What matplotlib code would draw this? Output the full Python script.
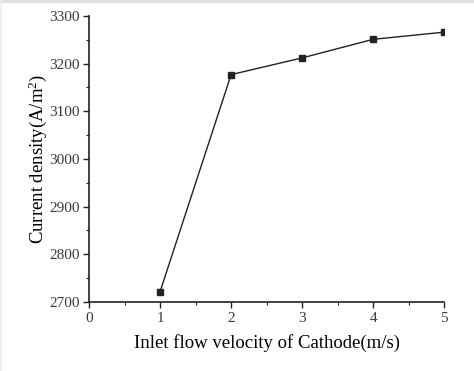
import matplotlib.pyplot as plt
from matplotlib.ticker import MultipleLocator
from matplotlib.lines import Line2D

# Data
velocity = [1, 2, 3, 4, 5]
current_density = [2722, 3177, 3212, 3251, 3266]

plt.rcParams['font.family'] = ['Liberation Serif', 'DejaVu Serif']
plt.rcParams['mathtext.fontset'] = 'custom'
plt.rcParams['mathtext.rm'] = 'Liberation Serif'

fig = plt.figure(figsize=(4.74, 3.71), dpi=100)
ax = fig.add_axes([0.188, 0.186, 0.749, 0.771])

ax.plot(velocity, current_density, color='#222222', linewidth=1.0,
        marker='s', markersize=5, markerfacecolor='#222222',
        markeredgecolor='#222222')

ax.set_xlim(0, 5)
ax.set_ylim(2700, 3300)
ax.xaxis.set_major_locator(MultipleLocator(1))
ax.xaxis.set_minor_locator(MultipleLocator(0.5))
ax.yaxis.set_major_locator(MultipleLocator(100))
ax.yaxis.set_minor_locator(MultipleLocator(50))

ax.spines['top'].set_visible(False)
ax.spines['right'].set_visible(False)
for s in ['left', 'bottom']:
    ax.spines[s].set_linewidth(1.2)
    ax.spines[s].set_color('#222222')

ax.tick_params(which='major', direction='out', length=4, width=1,
               labelsize=11, labelcolor='#3a3a3a', color='#222222', pad=3)
ax.tick_params(which='minor', direction='out', length=2.5, width=0.8,
               color='#222222')

ax.set_xlabel('Inlet flow velocity of Cathode(m/s)', fontsize=13.5, labelpad=7)
ax.set_ylabel('Current density(A/m$\\mathregular{^2}$)', fontsize=13.5, labelpad=0)

# thin grey frame on the top and left edges of the image
fig.add_artist(Line2D([0, 1], [0.997, 0.997], transform=fig.transFigure,
                      color='#dddddd', linewidth=2))
fig.add_artist(Line2D([0.002, 0.002], [0, 1], transform=fig.transFigure,
                      color='#eeeeee', linewidth=1.5))

fig.savefig('out.png', dpi=100)
